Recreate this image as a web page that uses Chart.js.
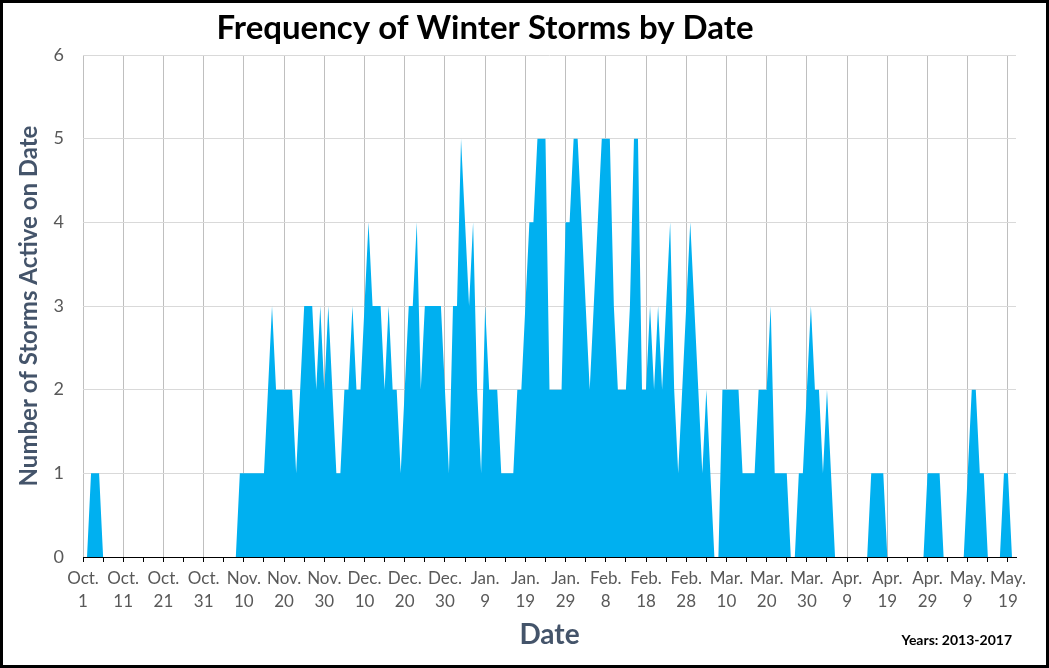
<!DOCTYPE html>
<html>
<head>
<meta charset="utf-8">
<title>Frequency of Winter Storms by Date</title>
<script src="https://cdn.jsdelivr.net/npm/chart.js@4.4.1/dist/chart.umd.min.js"></script>
<style>
  body { margin: 0; background: #fff; }
  .frame {
    position: relative;
    width: 1049px;
    height: 668px;
    box-sizing: border-box;
    border: 3px solid #000;
    background: #fff;
  }
  #stormChart { display: block; }
</style>
</head>
<body>
<div class="frame">
  <canvas id="stormChart" width="1043" height="662"></canvas>
</div>
<script>
// text
const chartTitle = "Frequency of Winter Storms by Date";
const yTitle = "Number of Storms Active on Date";
const xTitle = "Date";
const yearsNote = "Years: 2013-2017";

// labels shown every 10 days (Oct. 1 .. May 19)
const tickLabels = [
  ["Oct.", "1"], ["Oct.", "11"], ["Oct.", "21"], ["Oct.", "31"],
  ["Nov.", "10"], ["Nov.", "20"], ["Nov.", "30"],
  ["Dec.", "10"], ["Dec.", "20"], ["Dec.", "30"],
  ["Jan.", "9"], ["Jan.", "19"], ["Jan.", "29"],
  ["Feb.", "8"], ["Feb.", "18"], ["Feb.", "28"],
  ["Mar.", "10"], ["Mar.", "20"], ["Mar.", "30"],
  ["Apr.", "9"], ["Apr.", "19"], ["Apr.", "29"],
  ["May.", "9"], ["May.", "19"],
];

// storms active on each day, starting Oct. 1
const stormCounts = [
  0, 0, 1, 1, 1, 0, 0, 0, 0, 0,
  0, 0, 0, 0, 0, 0, 0, 0, 0, 0,
  0, 0, 0, 0, 0, 0, 0, 0, 0, 0,
  0, 0, 0, 0, 0, 0, 0, 0, 0, 1,
  1, 1, 1, 1, 1, 1, 2, 3, 2, 2,
  2, 2, 2, 1, 2, 3, 3, 3, 2, 3,
  2, 3, 2, 1, 1, 2, 2, 3, 2, 2,
  3, 4, 3, 3, 3, 2, 3, 2, 2, 1,
  2, 3, 3, 4, 2, 3, 3, 3, 3, 3,
  2, 1, 3, 3, 5, 4, 3, 4, 2, 1,
  3, 2, 2, 2, 1, 1, 1, 1, 2, 2,
  3, 4, 4, 5, 5, 5, 2, 2, 2, 2,
  4, 4, 5, 5, 4, 3, 2, 3, 4, 5,
  5, 5, 3, 2, 2, 2, 3, 5, 5, 2,
  2, 3, 2, 3, 2, 3, 4, 2, 1, 2,
  3, 4, 3, 2, 1, 2, 1, 0, 0, 2,
  2, 2, 2, 2, 1, 1, 1, 1, 2, 2,
  2, 3, 1, 1, 1, 1, 0, 0, 1, 1,
  2, 3, 2, 2, 1, 2, 1, 0, 0, 0,
  0, 0, 0, 0, 0, 0, 1, 1, 1, 1,
  0, 0, 0, 0, 0, 0, 0, 0, 0, 0,
  1, 1, 1, 1, 0, 0, 0, 0, 0, 0,
  1, 2, 2, 1, 1, 0, 0, 0, 0, 1,
  1, 0, 0,
];

const yTicks = [0, 1, 2, 3, 4, 5, 6];

const fillColor = "#00B0F0";
const labelColor = "#595959";
const titleColor = "#44546A";

const dayIndex = stormCounts.map((v, i) => i);

// title + years note are placed by hand like in the original sheet
const extraText = {
  id: "extraText",
  afterDraw(chart) {
    const ctx = chart.ctx;
    ctx.save();
    ctx.fillStyle = "#000";
    ctx.textBaseline = "alphabetic";
    ctx.font = "bold 33px Lato";
    ctx.textAlign = "center";
    ctx.fillText(chartTitle, 482, 36);
    ctx.font = "bold 14px Lato";
    ctx.textAlign = "right";
    ctx.fillText(yearsNote, 1009, 642);
    ctx.restore();
  },
};

const ctx = document.querySelector("#stormChart");

new Chart(ctx, {
  type: "line",
  data: {
    labels: dayIndex,
    datasets: [
      {
        data: stormCounts,
        fill: "origin",
        backgroundColor: fillColor,
        borderColor: "rgba(0,0,0,0)",
        borderWidth: 0,
        pointRadius: 0,
        tension: 0,
      },
    ],
  },
  options: {
    responsive: false,
    animation: false,
    layout: {
      padding: { top: 52, right: 30, bottom: 0, left: 0 },
    },
    plugins: {
      legend: { display: false },
      tooltip: { enabled: false },
    },
    scales: {
      x: {
        type: "category",
        offset: false,
        afterFit(scale) {
          scale.height = 108;
        },
        border: { display: true, color: "#000", width: 1 },
        grid: {
          color: (c) => (c.index % 10 === 0 ? "#BFBFBF" : "rgba(0,0,0,0)"),
          tickColor: (c) => (c.index % 5 === 0 ? "#000" : "rgba(0,0,0,0)"),
          tickLength: 5,
          lineWidth: 1,
        },
        ticks: {
          autoSkip: false,
          maxRotation: 0,
          minRotation: 0,
          padding: 5,
          color: labelColor,
          font: { family: "Lato", size: 17, lineHeight: 1.35 },
          callback: (value, index) =>
            index % 10 === 0 ? tickLabels[index / 10] : "",
        },
        title: {
          display: true,
          text: xTitle,
          color: titleColor,
          font: { family: "Lato", size: 28, weight: "bold" },
          padding: { top: 0, bottom: 13 },
        },
      },
      y: {
        min: 0,
        max: 6,
        afterFit(scale) {
          scale.width = 80;
        },
        afterBuildTicks(scale) {
          scale.ticks = yTicks.map((v) => ({ value: v }));
        },
        border: { display: false },
        grid: {
          color: "#D9D9D9",
          drawTicks: false,
        },
        ticks: {
          padding: 19,
          color: labelColor,
          font: { family: "Lato", size: 18 },
        },
        title: {
          display: true,
          text: yTitle,
          color: titleColor,
          font: { family: "Lato", size: 24, weight: "bold" },
          padding: { top: 12, bottom: 0 },
        },
      },
    },
  },
  plugins: [extraText],
});
</script>
</body>
</html>
